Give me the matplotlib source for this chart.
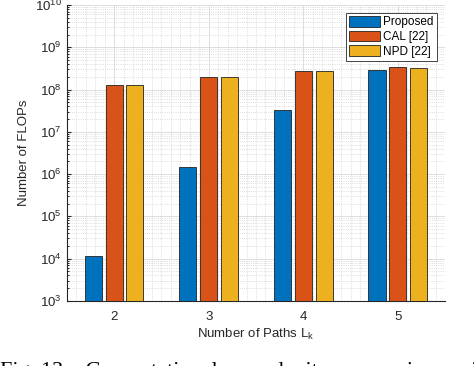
import matplotlib
matplotlib.use('agg')
import matplotlib.pyplot as plt
import numpy as np

paths = [2, 3, 4, 5]
labels = ['Proposed', 'CAL [22]', 'NPD [22]']
proposed = [1.03e4, 1.5e6, 3.3e7, 2.95e8]
cal = [1.32e8, 2.0e8, 2.75e8, 3.4e8]
npd = [1.32e8, 1.98e8, 2.7e8, 3.3e8]
colors = ['#0072BD', '#D95319', '#EDB120']

plt.rcParams['font.family'] = ['Liberation Sans', 'DejaVu Sans']

fig = plt.figure(figsize=(4.74, 3.66), dpi=100)
ax = fig.add_axes([0.141, 0.178, 0.798, 0.808])

x = np.array(paths, dtype=float)
width = 0.18
offset = 0.22
for i, (vals, lab, c) in enumerate(zip([proposed, cal, npd], labels, colors)):
    ax.bar(x + (i - 1) * offset, vals, width, bottom=1e3, color=c,
           edgecolor='#222222', linewidth=0.6, label=lab, zorder=3)

ax.set_yscale('log')
ax.set_ylim(1e3, 1e10)
ax.set_xlim(1.5, 5.5)
ax.set_xticks(paths)
ax.set_yticks([10.0 ** k for k in range(3, 11)])

ax.grid(True, which='major', color='#d8d8d8', linewidth=0.6, zorder=0)
ax.grid(True, which='minor', axis='y', color='#d0d0d0', linestyle=':', linewidth=0.6, zorder=0)
ax.xaxis.set_minor_locator(matplotlib.ticker.MultipleLocator(0.1))
ax.grid(True, which='minor', axis='x', color='#d0d0d0', linestyle=':', linewidth=0.6, zorder=0)
ax.tick_params(axis='x', which='minor', length=0)

ax.tick_params(direction='in', labelsize=9.5, colors='#262626', length=3)
ax.tick_params(axis='y', which='minor', direction='in', length=1.5)
ax.tick_params(axis='x', which='major', length=0, pad=7)
for s in ['top', 'right']:
    ax.spines[s].set_visible(False)
for s in ['left', 'bottom']:
    ax.spines[s].set_color('#262626')
    ax.spines[s].set_linewidth(0.8)

ax.set_xlabel('Number of Paths L$_\\mathregular{k}$', fontsize=9.5, color='#262626', labelpad=3)
ax.set_ylabel('Number of FLOPs', fontsize=9.5, color='#262626')

leg = ax.legend(loc='upper right', fontsize=8.5, fancybox=False, framealpha=1,
                edgecolor='#262626', handlelength=2.6, handleheight=1.0,
                borderpad=0.3, labelspacing=0.2, handletextpad=0.3,
                bbox_to_anchor=(0.995, 0.995))
leg.get_frame().set_linewidth(0.6)

# caption of the source figure, cut off at the bottom edge
fig.text(0.0, -0.028, 'Fig. 13.   Computational  complexity  comparison  with',
         fontsize=16, family='Liberation Serif', ha='left', va='baseline')

fig.savefig('out.png', dpi=100)
